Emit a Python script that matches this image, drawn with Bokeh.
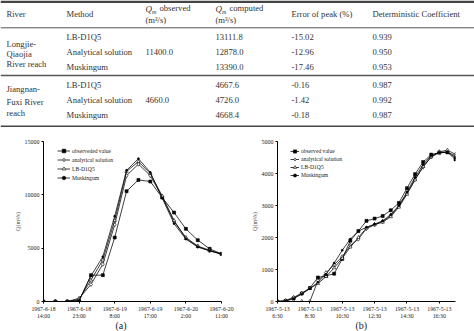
from bokeh.plotting import figure
from bokeh.layouts import column, row
from bokeh.models import (ColumnDataSource, Legend, LegendItem, Title, FixedTicker, Range1d)
from bokeh.core.properties import value
from bokeh.embed import file_html
from bokeh.resources import INLINE

# ---------------- table data ----------------
header = ["River", "Method", "observed", "computed", "Error of peak (%)", "Deterministic Coefficient"]
rivers = [["Longjie-", "Qiaojia", "River reach"], ["Jiangnan-", "Fuxi River", "reach"]]
methods = ["LB-D1Q5", "Analytical solution", "Muskingum"]
q_observed = ["11400.0", "4660.0"]
q_computed = [["13111.8", "12878.0", "13390.0"], ["4667.6", "4726.0", "4668.4"]]
peak_error = [["-15.02", "-12.96", "-17.46"], ["-0.16", "-1.42", "-0.18"]]
det_coef = [["0.939", "0.950", "0.953"], ["0.987", "0.992", "0.987"]]

# ---------------- chart (a) data ----------------
hours_a = [0, 3, 6, 9, 12, 15, 18, 21, 24, 27, 30, 33, 36, 39, 42, 45]
ticks_a = [0, 9, 18, 27, 36, 45]
tick_labels_a = ["1967-6-18\n14:00", "1967-6-18\n23:00", "1967-6-19\n8:00",
                 "1967-6-19\n17:00", "1967-6-20\n2:00", "1967-6-20\n11:00"]
obs_a = [0, 0, 0, 50, 2470, 2470, 6000, 10340, 11400, 11250, 9750, 8340, 6810, 5750, 4940, 4470]
ana_a = [0, 0, 0, 300, 1600, 3500, 7200, 11800, 12878, 11800, 9800, 7500, 6000, 5200, 4800, 4450]
lb_a = [0, 0, 0, 200, 2000, 3900, 7600, 12200, 13112, 12000, 9900, 7600, 5900, 5150, 4750, 4450]
mus_a = [0, 0, 0, 100, 2400, 4200, 8000, 12300, 13390, 12100, 9700, 7300, 5850, 5100, 4750, 4450]
labels_a = ["observeded value", "analytical solution", "LB-D1Q5", "Muskingum"]

# ---------------- chart (b) data ----------------
hours_b = [0, 0.5, 1, 1.5, 2, 2.5, 3, 3.5, 4, 4.5, 5, 5.5, 6, 6.5, 7, 7.5, 8, 8.5, 9, 9.5, 10, 10.5, 11]
ticks_b = [0, 2, 4, 6, 8, 10]
tick_labels_b = ["1967-5-13\n6:30", "1967-5-13\n8:30", "1967-5-13\n10:30",
                 "1967-5-13\n12:30", "1967-5-13\n14:30", "1967-5-13\n16:30"]
obs_b = [0, 20, 100, 250, 420, 750, 800, 870, 1330, 1900, 2200, 2520, 2590, 2670, 2850, 3080,
         3540, 3980, 4360, 4590, 4650, 4660, 4440]
ana_b = [0, 0, 0, 0, 0, 650, 900, 1150, 1400, 1750, 1950, 2280, 2400, 2500, 2680, 2980,
         3380, 3820, 4200, 4520, 4680, 4726, 4600]
lb_b = [0, 30, 130, 260, 410, 560, 780, 1050, 1350, 1700, 2000, 2300, 2400, 2480, 2650, 2950,
        3350, 3800, 4220, 4520, 4650, 4668, 4550]
mus_b = [0, 10, 90, 230, 400, 600, 850, 1200, 1600, 1950, 2200, 2320, 2420, 2520, 2720, 3000,
         3420, 3880, 4280, 4560, 4660, 4668, 4500]
labels_b = ["observed value", "analytical solution", "LB-D1Q5", "Muskingum"]

SERIF = value("Liberation Serif")
TXT = "#333333"

# ================= table figure =================
t = figure(width=474, height=127, x_range=Range1d(0, 474), y_range=Range1d(127, 0),
           output_backend="svg", toolbar_location=None,
           min_border=0, min_border_left=0, min_border_right=0, min_border_top=0, min_border_bottom=0)
t.axis.visible = False
t.grid.visible = False
t.outline_line_color = None

col_x = [6, 66, 145, 215, 291, 372]
row_y = [[36, 51, 66], [84, 99.5, 114.5]]
river_y = [[43, 53, 63], [88, 101, 112]]

# rules
t.segment(x0=[0], y0=[1.2], x1=[474], y1=[1.2], line_color="#444444", line_width=2.5)
t.segment(x0=[0], y0=[27.3], x1=[474], y1=[27.3], line_color="#555555", line_width=1)
t.segment(x0=[0], y0=[75], x1=[474], y1=[75], line_color="#555555", line_width=1.6)
t.segment(x0=[0], y0=[126], x1=[474], y1=[126], line_color="#444444", line_width=2.2)

fs = "8.6px"
def ttext(xs, ys, texts, size=fs, style="normal", align="left"):
    t.text(x=xs, y=ys, text=texts, text_font=SERIF, text_font_size=value(size),
           text_baseline="middle", text_align=align, text_color=TXT, text_font_style=style)

# header
ttext([col_x[0], col_x[1], col_x[4], col_x[5]], [13.3] * 4,
      [header[0], header[1], header[4], header[5]])
for cx, word in ((col_x[2], header[2]), (col_x[3], header[3])):
    ttext([cx], [8.3], ["Q"], size="9px", style="italic")
    ttext([cx + 6.5], [11], ["m"], size="6px", style="italic")
    ttext([cx + 14], [7.5], [word])
    ttext([cx], [19], ["(m³/s)"])

# body
for g in range(2):
    ttext([col_x[0]] * 3, river_y[g], rivers[g])
    ttext([col_x[1]] * 3, row_y[g], methods)
    ttext([col_x[2]], [row_y[g][1]], [q_observed[g]])
    ttext([col_x[3]] * 3, row_y[g], q_computed[g])
    ttext([col_x[4]] * 3, row_y[g], peak_error[g])
    ttext([col_x[5]] * 3, row_y[g], det_coef[g])


# ================= charts =================
def make_chart(xs, series, labels, xr, yr, xticks, xlabels, yticks, border, leg_loc,
               glyph_w, row_h, caption, cap_off):
    p = figure(width=237, height=204, x_range=Range1d(*xr), y_range=Range1d(*yr),
               output_backend="svg", toolbar_location=None,
               min_border_left=border[0], min_border_right=border[1],
               min_border_top=border[2], min_border_bottom=border[3])
    p.grid.visible = False
    p.outline_line_color = None
    p.background_fill_color = "white"
    p.xaxis.ticker = FixedTicker(ticks=xticks)
    p.xaxis.major_label_overrides = {tk: lb for tk, lb in zip(xticks, xlabels)}
    p.yaxis.ticker = FixedTicker(ticks=yticks)
    for ax in (p.xaxis[0], p.yaxis[0]):
        ax.axis_line_color = "black"
        ax.axis_line_width = 1
        ax.major_tick_line_color = "black"
        ax.major_tick_in = 0
        ax.major_tick_out = 2
        ax.minor_tick_line_color = None
        ax.major_label_text_font = "Liberation Serif"
        ax.major_label_text_color = "#222222"
        ax.major_label_standoff = 2
    p.xaxis.major_label_text_font_size = "5.8px"
    p.yaxis.major_label_text_font_size = "6px"
    p.yaxis.axis_label = "Q(m³/s)"
    p.yaxis.axis_label_text_font = "Liberation Serif"
    p.yaxis.axis_label_text_font_size = "6px"
    p.yaxis.axis_label_text_font_style = "normal"
    p.yaxis.axis_label_standoff = 1

    src = ColumnDataSource(dict(x=xs, obs=series[0], ana=series[1], lb=series[2], mus=series[3]))
    markers = [("obs", "square", 3, "black"), ("ana", "diamond", 4.2, "white"),
               ("lb", "triangle", 3.4, "white"), ("mus", "circle", 2, "black")]
    items = []
    for (col, mk, sz, fill), lab in zip(markers, labels):
        lr = p.line("x", col, source=src, line_color="black", line_width=0.75)
        sr = p.scatter("x", col, source=src, marker=mk, size=sz, fill_color=fill,
                       line_color="black", line_width=0.6)
        items.append(LegendItem(label=lab, renderers=[lr, sr]))
    leg = Legend(items=items, location=leg_loc, padding=0, margin=0, spacing=0,
                 glyph_width=glyph_w, glyph_height=row_h, label_height=row_h,
                 label_standoff=2, label_text_font="Liberation Serif",
                 label_text_font_size="5.6px", label_text_color="#222222",
                 border_line_color=None, background_fill_alpha=0)
    p.add_layout(leg)
    p.add_layout(Title(text=caption, align="left", offset=cap_off, standoff=-7,
                       text_font="Liberation Serif", text_font_size="10px",
                       text_font_style="normal", text_color="#222222"), "below")
    return p


pa = make_chart(hours_a, [obs_a, ana_a, lb_a, mus_a], labels_a, (0, 45), (0, 15000),
                ticks_a, tick_labels_a, [0, 5000, 10000, 15000], (43, 16, 14, 30),
                (14, 119), 13, 9, "(a)", 72)
pb = make_chart(hours_b, [obs_b, ana_b, lb_b, mus_b], labels_b, (0, 11), (0, 5000),
                ticks_b, tick_labels_b, [0, 1000, 2000, 3000, 4000, 5000], (40, 19, 12, 30),
                (13, 122), 9, 8, "(b)", 78)

layout = column(t, row(pa, pb, spacing=0), spacing=0)
open("out.html", "w").write(file_html(layout, INLINE))
